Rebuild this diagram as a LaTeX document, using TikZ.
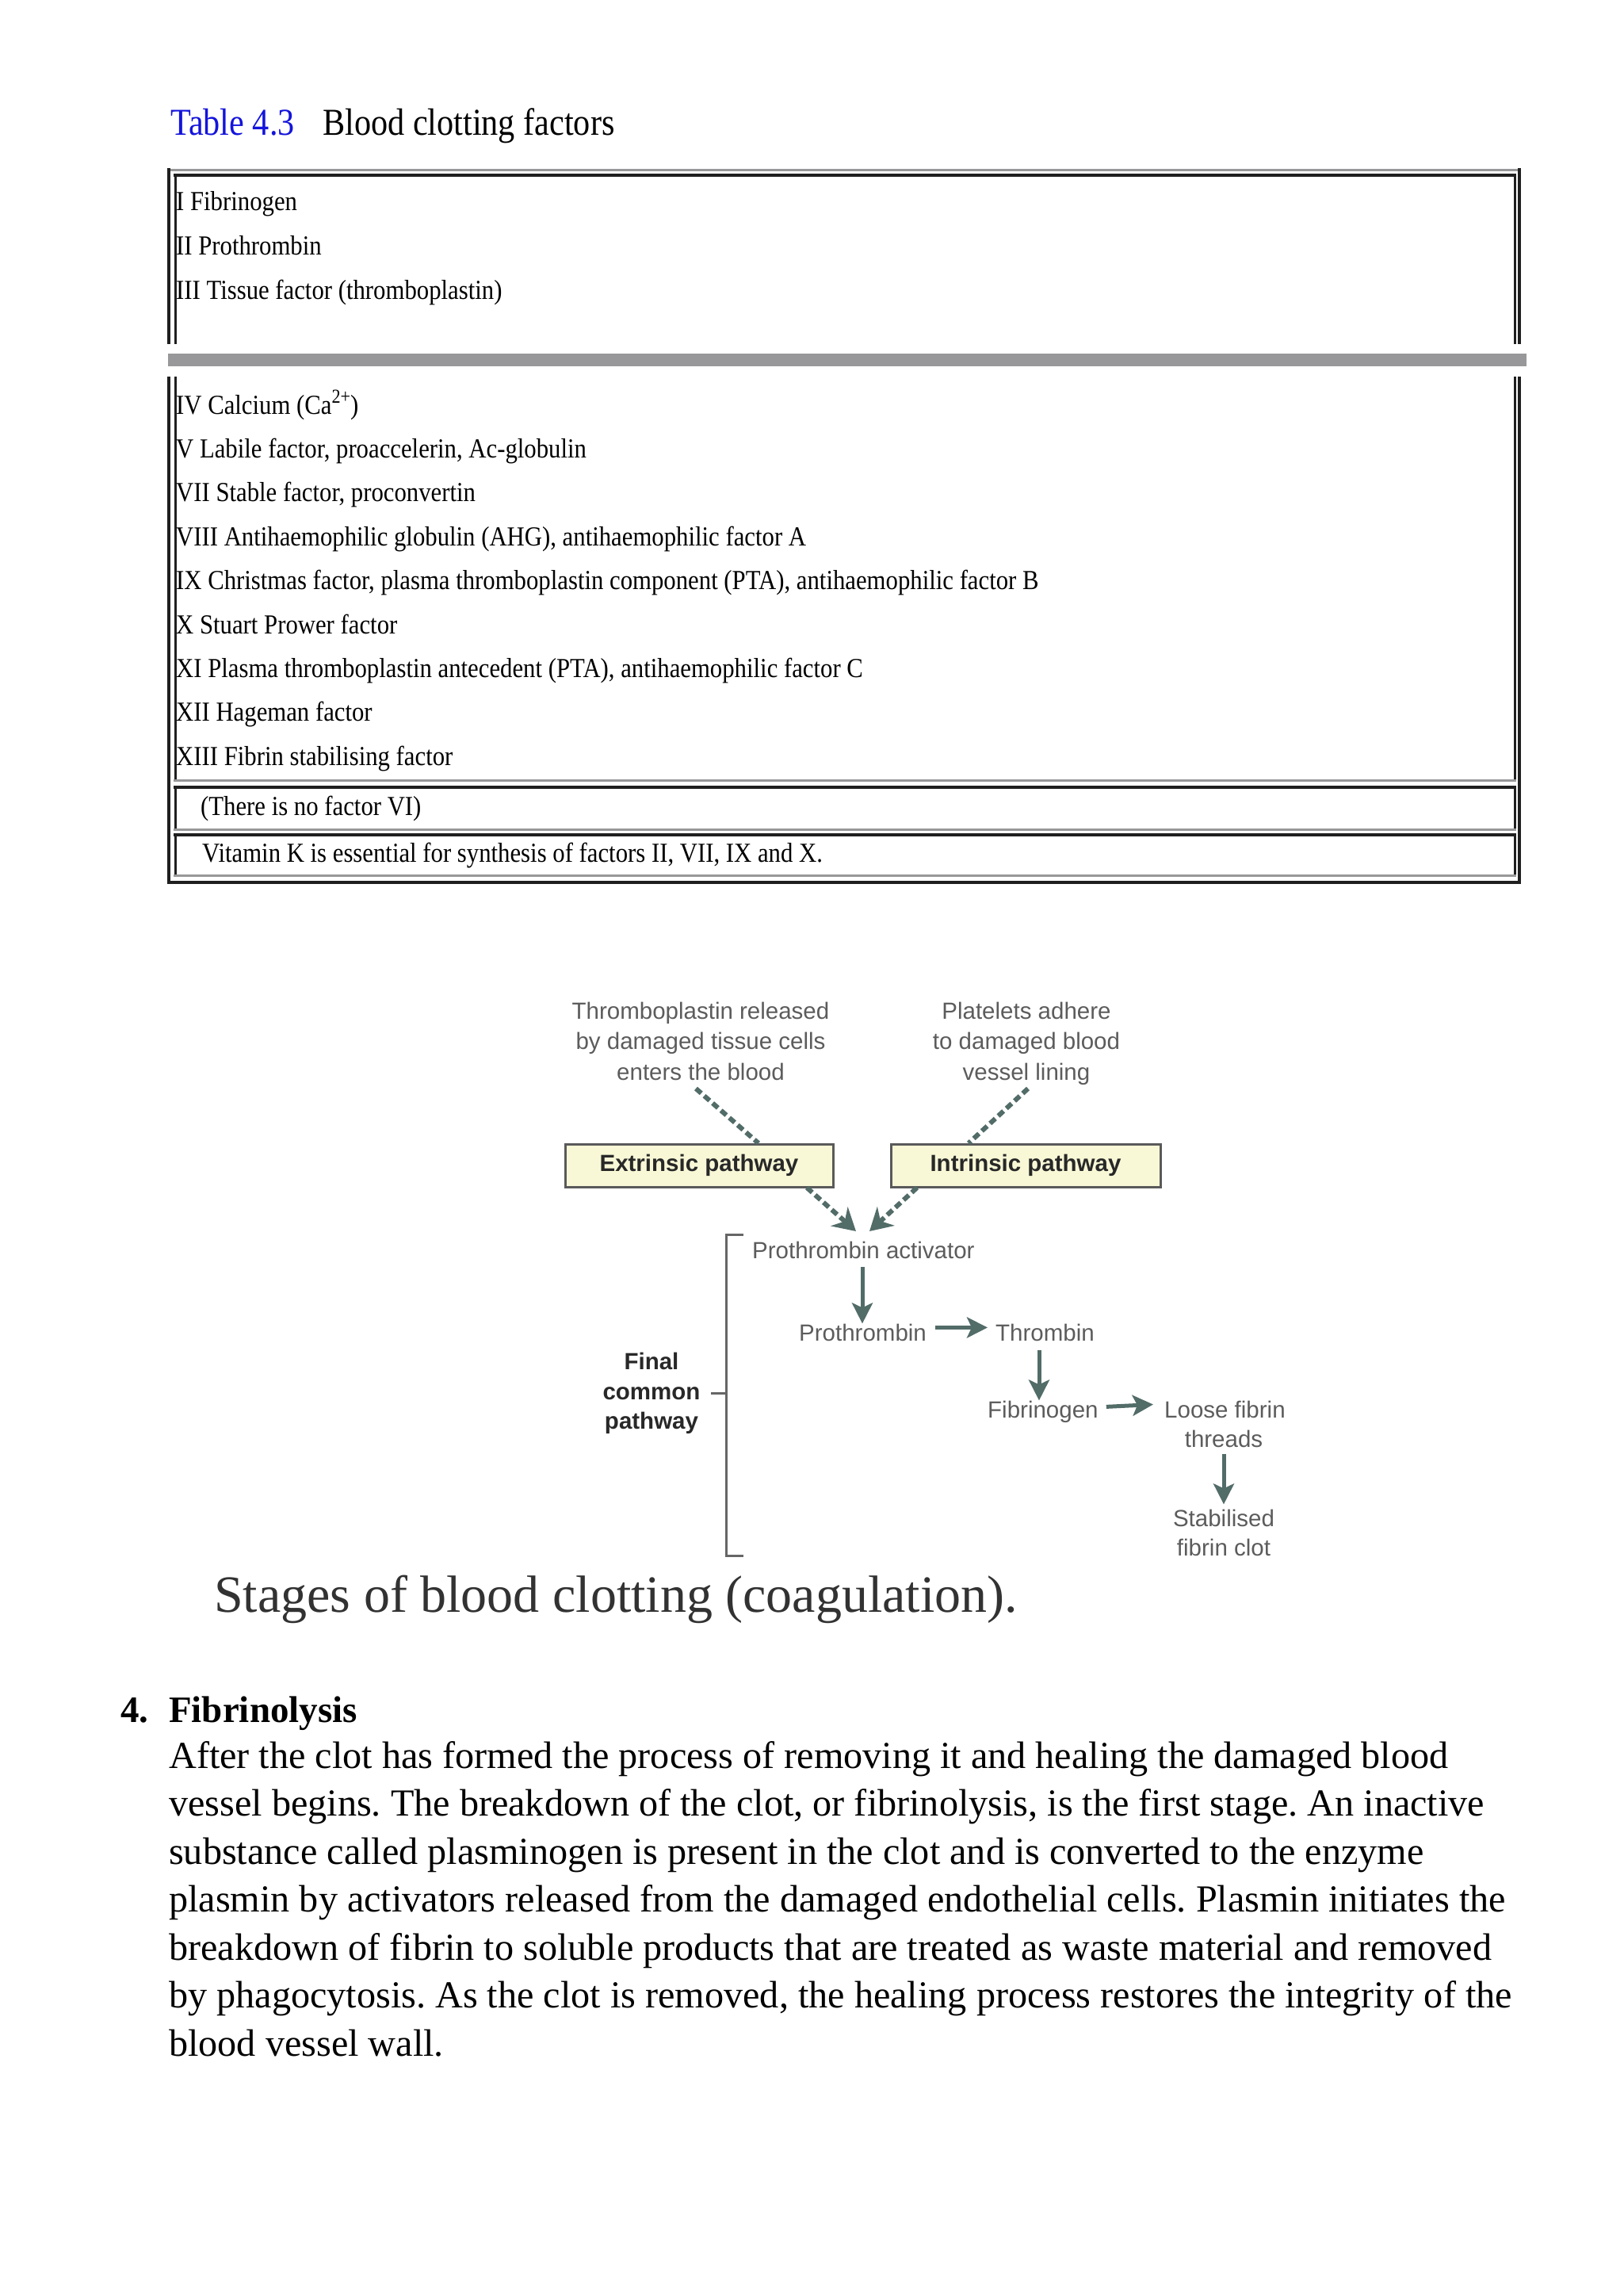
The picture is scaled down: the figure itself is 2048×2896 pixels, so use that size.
\documentclass[tikz,border=0pt]{standalone}
\usepackage{fontspec}
\setmainfont{Liberation Serif}
\newfontfamily\tabfont[FakeStretch=0.886]{Liberation Serif}
\newfontfamily\titlefont[FakeStretch=0.88]{Liberation Serif}
\newfontfamily\diafont{Liberation Sans}
\usetikzlibrary{arrows.meta,calc}
\definecolor{tblue}{RGB}{20,20,220}
\definecolor{rulegray}{RGB}{152,152,154}
\definecolor{arrowcol}{RGB}{82,108,104}
\definecolor{diatext}{RGB}{92,92,92}
\definecolor{diabold}{RGB}{40,40,40}
\definecolor{boxfill}{RGB}{248,248,215}
\definecolor{boxdraw}{RGB}{90,90,90}
\definecolor{captcol}{RGB}{50,50,50}
\frenchspacing
\begin{document}
\begin{tikzpicture}[x=1pt,y=-1pt,
  blk/.style={line width=4pt,black!88},
  thin/.style={line width=3pt,black!88},
  gry/.style={line width=3pt,rulegray},
  tabtxt/.style={anchor=base west,inner sep=0pt,font=\tabfont\fontsize{34.7}{40}\selectfont},
  titletxt/.style={anchor=base west,inner sep=0pt,font=\titlefont\fontsize{48}{52}\selectfont},
  diatxt/.style={anchor=base,inner sep=0pt,text=diatext,font=\diafont\fontsize{29.5}{36}\selectfont},
  diabf/.style={anchor=base,inner sep=0pt,text=diabold,font=\diafont\bfseries\fontsize{29.5}{36}\selectfont},
  pathbox/.style={draw=boxdraw,line width=3pt,fill=boxfill,inner sep=0pt,
    text height=21pt,text depth=6pt,text=diabold,font=\diafont\bfseries\fontsize{29.5}{36}\selectfont},
  dotarrow/.style={draw=arrowcol,line width=6pt,dash pattern=on 9pt off 5pt},
  solidarrow/.style={draw=arrowcol,line width=5pt,-{Stealth[length=26pt,width=26pt,inset=6pt]}},
  bracketline/.style={draw=black!60,line width=3pt},
  paratxt/.style={anchor=base west,inner sep=0pt,font=\fontsize{48.2}{56}\selectfont}
]
\useasboundingbox (0,0) rectangle (2048,2896);
\fill[white] (0,0) rectangle (2048,2896);

% ---------- Title ----------
\node[titletxt,text=tblue] (tabno) at (215,170) {Table 4.3};
\node[titletxt] (tabtitle) at (407,170) {Blood clotting factors};

% ---------- Table: first block ----------
\draw[gry] (212,214) -- (1919,214);
\draw[blk] (213,212) -- (213,434);
\draw[blk] (1917,212) -- (1917,434);
\draw[blk] (219,221) -- (1913,221);
\draw[thin] (221,219) -- (221,434);
\draw[thin] (1911,219) -- (1911,434);

\node[tabtxt] (f1) at (222,265) {I Fibrinogen};
\node[tabtxt] (f2) at (222,321) {II Prothrombin};
\node[tabtxt] (f3) at (222,377) {III Tissue factor (thromboplastin)};

% gray rule
\fill[rulegray] (212,446) rectangle (1926,462);

% ---------- Table: second block ----------
\draw[blk] (213,475) -- (213,1115);
\draw[blk] (1917,475) -- (1917,1115);
\draw[blk] (211,1113) -- (1919,1113);
% cell A
\draw[thin] (221,475) -- (221,986);
\draw[thin] (1911,475) -- (1911,986);
\draw[gry] (219,984) -- (1913,984);
% cell B
\draw[blk] (219,993) -- (1913,993);
\draw[thin] (221,991) -- (221,1048);
\draw[thin] (1911,991) -- (1911,1048);
\draw[gry] (219,1046) -- (1913,1046);
% cell C
\draw[blk] (219,1053) -- (1913,1053);
\draw[thin] (221,1051) -- (221,1106);
\draw[thin] (1911,1051) -- (1911,1106);
\draw[gry] (219,1104) -- (1913,1104);

\node[tabtxt] (f4) at (222,522) {IV Calcium (Ca\raisebox{0.4em}{\fontsize{25}{25}\selectfont 2+})};
\node[tabtxt] (f5) at (222,577.4) {V Labile factor, proaccelerin, Ac-globulin};
\node[tabtxt] (f7) at (222,632.8) {VII Stable factor, proconvertin};
\node[tabtxt] (f8) at (222,688.2) {VIII Antihaemophilic globulin (AHG), antihaemophilic factor A};
\node[tabtxt] (f9) at (222,743.6) {IX Christmas factor, plasma thromboplastin component (PTA), antihaemophilic factor B};
\node[tabtxt] (f10) at (222,799) {X Stuart Prower factor};
\node[tabtxt] (f11) at (222,854.4) {XI Plasma thromboplastin antecedent (PTA), antihaemophilic factor C};
\node[tabtxt] (f12) at (222,909.8) {XII Hageman factor};
\node[tabtxt] (f13) at (222,965.2) {XIII Fibrin stabilising factor};
\node[tabtxt] (nof6) at (253,1028) {(There is no factor VI)};
\node[tabtxt] (vitk) at (255,1087) {Vitamin K is essential for synthesis of factors II, VII, IX and X.};

% ---------- Diagram ----------
\node[diatxt] (exsrc1) at (884,1285) {Thromboplastin released};
\node[diatxt] (exsrc2) at (884,1323.5) {by damaged tissue cells};
\node[diatxt] (exsrc3) at (884,1362) {enters the blood};
\node[diatxt] (insrc1) at (1295,1285) {Platelets adhere};
\node[diatxt] (insrc2) at (1295,1323.5) {to damaged blood};
\node[diatxt] (insrc3) at (1295,1362) {vessel lining};

\node[pathbox,minimum width=338pt,minimum height=54pt] (ext) at (882,1470) {Extrinsic pathway};
\node[pathbox,minimum width=340pt,minimum height=54pt] (int) at (1294,1470) {Intrinsic pathway};

\coordinate (exs) at (878,1373);
\coordinate (ins) at (1297,1373);
\coordinate (exin) at (957,1442);
\coordinate (inin) at (1222,1442);
\draw[dotarrow] (exs) -- (exin);
\draw[dotarrow] (ins) -- (inin);

\node[diatxt,anchor=base west] (pa) at (949,1587) {Prothrombin activator};
\coordinate (exout) at (1018,1498);
\coordinate (inout) at (1157,1498);
\coordinate (patipL) at (1080,1553);
\coordinate (patipR) at (1097,1553);
\draw[dotarrow,-{Stealth[length=28pt,width=32pt,inset=9pt]}] (exout) -- (patipL);
\draw[dotarrow,-{Stealth[length=28pt,width=32pt,inset=9pt]}] (inout) -- (patipR);

\node[diatxt,anchor=base west] (pro) at (1008,1691) {Prothrombin};
\node[diatxt,anchor=base west] (thr) at (1256,1691) {Thrombin};
\node[diatxt,anchor=base west] (fbg) at (1246,1788) {Fibrinogen};
\node[diatxt,anchor=base west] (loose1) at (1469,1788) {Loose fibrin};
\node[diatxt] (loose2) at (1544,1825) {threads};
\node[diatxt] (stab1) at (1544,1925) {Stabilised};
\node[diatxt] (stab2) at (1544,1962) {fibrin clot};

\coordinate (paout) at (1088,1598);
\coordinate (throut) at (1311,1703);
\draw[solidarrow] (paout) -- (paout |- pro.north);
\draw[solidarrow] ($(pro.east)+(11,-6)$) -- ($(thr.west)+(-10,-6)$);
\draw[solidarrow] (throut) -- (throut |- fbg.north);
\draw[solidarrow] ($(fbg.east)+(10,-6)$) -- ($(loose1.west)+(-14,-6)$);
\draw[solidarrow] ($(loose2.south)+(0,8)$) -- ($(stab1.north)+(0,-6)$);

% bracket
\coordinate (brtop) at (938,1557);
\coordinate (brbot) at (938,1962);
\coordinate (brmid) at (916,1757);
\draw[bracketline] (brtop) -- (916,1557) -- (916,1962) -- (brbot);
\draw[bracketline] (brmid) -- ++(-19,0);

\node[diabf] (fcp1) at (822,1727) {Final};
\node[diabf] (fcp2) at (822,1765) {common};
\node[diabf] (fcp3) at (822,1802) {pathway};

% caption
\node[anchor=base west,inner sep=0pt,text=captcol,font=\fontsize{66}{70}\selectfont] (cap) at (270,2033) {Stages of blood clotting (coagulation).};

% ---------- Paragraph ----------
\node[anchor=base west,inner sep=0pt,font=\bfseries\fontsize{47}{52}\selectfont] (num) at (152,2172) {4.};
\node[anchor=base west,inner sep=0pt,font=\bfseries\fontsize{47}{52}\selectfont] (head) at (213,2172) {Fibrinolysis};
\node[paratxt] (p1) at (213,2230) {After the clot has formed the process of removing it and healing the damaged blood};
\node[paratxt] (p2) at (213,2290.5) {vessel begins. The breakdown of the clot, or fibrinolysis, is the first stage. An inactive};
\node[paratxt] (p3) at (213,2351) {substance called plasminogen is present in the clot and is converted to the enzyme};
\node[paratxt] (p4) at (213,2411.5) {plasmin by activators released from the damaged endothelial cells. Plasmin initiates the};
\node[paratxt] (p5) at (213,2472) {breakdown of fibrin to soluble products that are treated as waste material and removed};
\node[paratxt] (p6) at (213,2532.5) {by phagocytosis. As the clot is removed, the healing process restores the integrity of the};
\node[paratxt] (p7) at (213,2593) {blood vessel wall.};
\end{tikzpicture}
\end{document}
